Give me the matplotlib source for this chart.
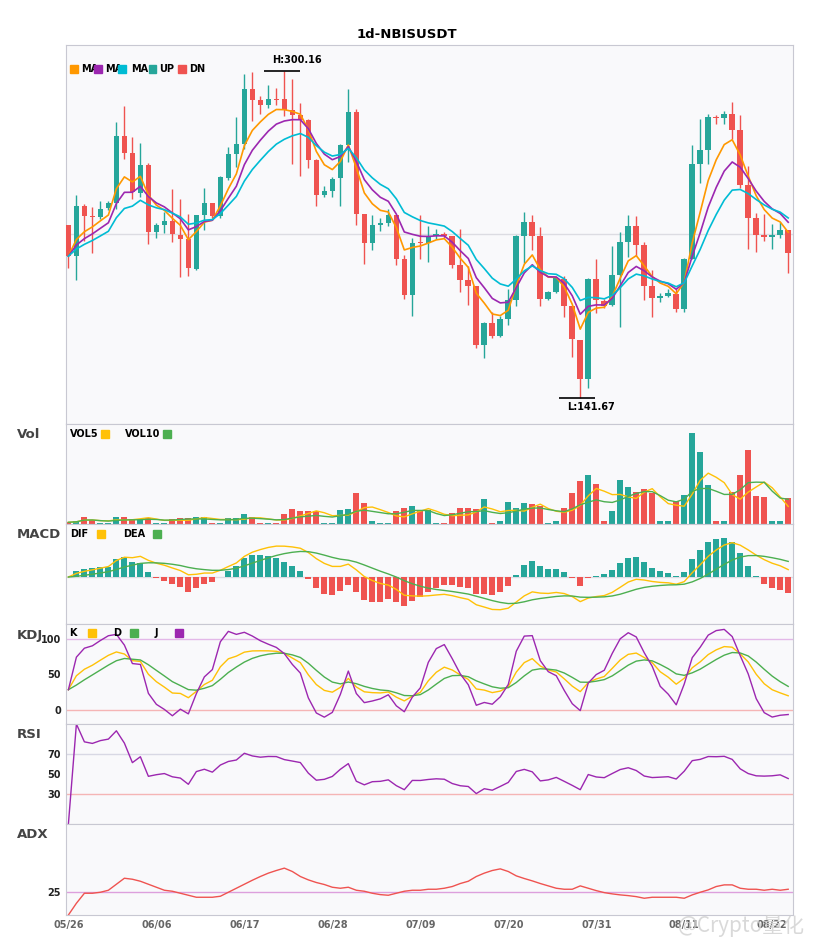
import numpy as np
import pandas as pd
import matplotlib
matplotlib.use("Agg")
import matplotlib.pyplot as plt
from matplotlib.patches import Rectangle

symbol = "1d-NBISUSDT"
start_date = "2025-05-26"

# daily candles
opens = [225.3, 210.4, 234.7, 229.8, 229.3, 233.6, 236.0, 268.6, 260.3, 241.0,
         254.5, 222.0, 225.4, 227.6, 220.8, 218.5, 204.4, 230.3, 236.0, 229.8,
         248.2, 259.8, 264.7, 291.4, 286.1, 283.8, 286.5, 286.5, 281.3, 278.8,
         276.3, 256.9, 239.9, 242.0, 248.3, 264.2, 280.4, 231.1, 216.7, 225.4,
         226.3, 230.2, 209.2, 191.7, 217.0, 216.8, 220.1, 221.4, 220.1, 206.3,
         198.7, 196.1, 167.4, 178.0, 171.8, 180.1, 189.3, 220.1, 227.1, 220.1,
         189.8, 192.8, 199.5, 186.1, 169.9, 150.9, 199.5, 188.7, 186.9, 201.5,
         217.4, 224.9, 215.7, 195.8, 189.9, 191.2, 192.2, 184.9, 209.2, 254.9,
         261.8, 277.9, 277.2, 279.3, 271.6, 244.7, 228.8, 220.6, 219.6, 220.6,
         223.3]
highs = [225.3, 239.9, 235.7, 234.2, 237.0, 237.4, 275.5, 283.3, 268.1, 265.2,
         255.4, 226.3, 231.8, 243.1, 237.9, 231.1, 230.6, 243.6, 236.2, 249.3,
         263.2, 277.8, 298.7, 299.5, 287.9, 293.4, 291.8, 300.16, 296.3, 284.6,
         276.8, 257.4, 244.2, 249.0, 264.7, 291.4, 281.7, 231.1, 230.6, 229.0,
         233.4, 230.6, 211.2, 219.3, 230.6, 224.9, 223.7, 222.0, 220.1, 223.7,
         205.5, 196.1, 178.6, 183.1, 181.5, 194.5, 220.9, 231.9, 230.6, 224.6,
         193.3, 200.0, 200.6, 186.1, 169.9, 199.9, 208.8, 189.8, 215.2, 222.2,
         230.2, 229.8, 217.2, 203.9, 192.6, 194.5, 194.5, 209.6, 264.2, 276.8,
         279.3, 278.8, 280.9, 285.4, 278.8, 254.1, 231.5, 231.0, 225.8, 226.9,
         223.3]
lows = [204.5, 198.7, 218.0, 212.0, 228.2, 233.0, 233.1, 257.7, 237.9, 238.9,
        216.4, 219.1, 221.7, 217.2, 200.3, 201.0, 203.9, 223.3, 228.7, 228.7,
        247.2, 253.5, 262.2, 276.0, 279.3, 282.5, 283.6, 278.4, 254.9, 249.3,
        253.0, 234.7, 239.2, 239.2, 234.7, 256.1, 225.4, 206.8, 213.6, 222.4,
        224.9, 206.3, 189.8, 181.2, 208.8, 207.4, 218.5, 219.0, 204.7, 192.9,
        186.9, 165.8, 160.8, 170.7, 171.3, 177.2, 186.4, 207.2, 213.6, 186.1,
        189.0, 192.7, 180.9, 161.4, 141.67, 146.4, 182.8, 185.4, 186.4, 176.0,
        209.9, 210.4, 189.0, 180.7, 188.0, 190.6, 183.1, 183.1, 208.8, 245.7,
        254.9, 274.5, 274.4, 267.1, 243.6, 213.9, 212.3, 217.7, 214.0, 219.3,
        202.3]
closes = [210.4, 234.7, 229.8, 229.3, 233.4, 236.0, 268.7, 260.3, 241.5, 254.5,
          222.0, 225.3, 227.6, 221.1, 218.5, 204.5, 230.2, 236.0, 229.8, 248.6,
          259.8, 264.7, 291.4, 286.2, 283.8, 286.5, 286.3, 281.3, 278.9, 276.5,
          257.0, 240.0, 241.8, 247.7, 264.2, 280.4, 231.1, 216.7, 225.3, 226.3,
          230.2, 209.2, 191.7, 217.0, 216.8, 219.6, 221.4, 220.1, 206.3, 198.7,
          196.1, 167.4, 178.0, 171.8, 180.1, 189.3, 220.1, 227.1, 220.1, 189.8,
          192.8, 199.9, 186.1, 170.3, 150.9, 199.5, 189.3, 186.4, 201.5, 217.4,
          224.9, 215.7, 195.8, 189.9, 191.2, 192.6, 184.9, 209.2, 254.9, 261.8,
          277.7, 277.2, 279.3, 271.6, 244.7, 228.8, 220.6, 219.6, 220.6, 223.3,
          212.0]
volumes = [17, 27, 73, 43, 7, 7, 73, 73, 53, 53,
           60, 7, 7, 53, 60, 60, 73, 73, 7, 13,
           60, 60, 100, 73, 13, 7, 7, 100, 153, 133,
           133, 133, 7, 7, 143, 153, 303, 210, 33, 13,
           13, 133, 163, 183, 143, 143, 7, 7, 113, 163,
           163, 153, 253, 13, 27, 223, 163, 213, 203, 183,
           7, 27, 163, 303, 423, 483, 393, 27, 133, 433,
           363, 313, 343, 303, 27, 27, 233, 293, 903, 713,
           383, 27, 27, 313, 483, 733, 283, 273, 27, 27,
           263]
adx_values = [0.0, 12.9, 23.9, 23.9, 25.0, 27.2, 33.8, 40.4, 39.3, 37.1,
              33.8, 30.5, 27.2, 26.1, 23.9, 21.7, 19.5, 19.5, 19.5, 20.6,
              25.0, 29.4, 33.8, 38.2, 42.3, 46.0, 48.9, 51.5, 47.8, 42.3,
              38.6, 35.7, 33.5, 30.5, 29.4, 30.5, 27.2, 26.1, 23.9, 22.4,
              21.7, 23.9, 26.1, 27.2, 27.2, 28.3, 28.3, 29.4, 31.3, 34.6,
              37.1, 42.3, 46.0, 48.9, 50.7, 47.8, 43.0, 40.1, 37.5, 34.6,
              32.0, 29.4, 28.3, 28.3, 32.0, 29.4, 26.8, 24.6, 23.2, 22.1,
              21.3, 20.2, 18.4, 19.5, 19.5, 19.5, 19.5, 18.4, 22.1, 25.0,
              27.6, 31.3, 33.1, 33.1, 29.4, 28.3, 28.3, 27.2, 28.3, 27.2,
              28.3]

UP = "#26a69a"
DN = "#ef5350"
ORANGE = "#ff9800"
PURPLE = "#9c27b0"
CYAN = "#00bcd4"
YELLOW = "#ffc107"
GREEN = "#4caf50"
FACE = "#f9f9fb"
EDGE = "#c8c8d2"

df = pd.DataFrame({"open": opens, "high": highs, "low": lows,
                   "close": closes, "volume": volumes},
                  index=pd.date_range(start_date, periods=len(closes), freq="D"))
x = np.arange(len(df))
colors = np.where(df.close >= df.open, UP, DN)

# moving averages (ema 5 / 8 / 13)
ma_fast = df.close.ewm(span=5, adjust=False).mean()
ma_mid = df.close.ewm(span=8, adjust=False).mean()
ma_slow = df.close.ewm(span=13, adjust=False).mean()
vol5 = df.volume.rolling(5, min_periods=1).mean()
vol10 = df.volume.rolling(10, min_periods=1).mean()

# MACD
dif = df.close.ewm(span=12, adjust=False).mean() - df.close.ewm(span=26, adjust=False).mean()
dea = dif.ewm(span=9, adjust=False).mean()
hist = 2 * (dif - dea)

# KDJ
low9 = df.low.rolling(9, min_periods=1).min()
high9 = df.high.rolling(9, min_periods=1).max()
rsv = (df.close - low9) / (high9 - low9) * 100
k = rsv.ewm(com=2, adjust=False).mean()
d = k.ewm(com=2, adjust=False).mean()
j = 3 * k - 2 * d

# RSI
delta = df.close.diff().fillna(0)
gain = delta.clip(lower=0).ewm(alpha=1 / 14, adjust=False).mean()
loss = (-delta.clip(upper=0)).ewm(alpha=1 / 14, adjust=False).mean()
rsi = (100 * gain / (gain + loss)).fillna(0)

W, H = 813, 950
fig = plt.figure(figsize=(W / 100, H / 100), dpi=100)
left, width = 66 / W, 727 / W


def panel(top, bottom, sharex=None):
    ax = fig.add_axes([left, 1 - bottom / H, width, (bottom - top) / H], sharex=sharex)
    ax.set_facecolor(FACE)
    for s in ax.spines.values():
        s.set_color(EDGE)
    ax.tick_params(length=0, labelsize=7, colors="#222")
    return ax


ax = panel(45, 424)
axv = panel(424, 524, ax)
axm = panel(524, 624, ax)
axk = panel(624, 724, ax)
axr = panel(724, 824, ax)
axa = panel(824, 915, ax)

# price
hi_i, lo_i = int(df.high.values.argmax()), int(df.low.values.argmin())
hi, lo = df.high.iloc[hi_i], df.low.iloc[lo_i]
rng = hi - lo
ax.axhline((hi + lo) / 2, color="#dcdce2", lw=1, zorder=1)
ax.vlines(x, df.low, df.high, colors=colors, lw=1, zorder=2)
body = np.maximum((df.close - df.open).abs(), 0.5)
ax.bar(x, body, bottom=np.minimum(df.open, df.close), width=0.7, color=colors, zorder=3)
ax.plot(x, ma_fast, color=ORANGE, lw=1.2, zorder=4)
ax.plot(x, ma_mid, color=PURPLE, lw=1.2, zorder=4)
ax.plot(x, ma_slow, color=CYAN, lw=1.2, zorder=4)
ax.set_ylim(lo - 0.08 * rng, hi + 0.08 * rng)
ax.set_yticks([])
ax.hlines(hi, hi_i - 2.5, hi_i + 1.9, color="black", lw=1.2)
ax.text(hi_i - 1.5, hi + 2.8, f"H:{hi:.2f}", fontsize=7, fontweight="bold", va="bottom")
ax.hlines(lo, lo_i - 2.6, lo_i + 1.8, color="black", lw=1.2)
ax.text(lo_i - 1.6, lo - 2.2, f"L:{lo:.2f}", fontsize=7, fontweight="bold", va="top")

# volume
axv.bar(x, df.volume, width=0.75, color=colors)
axv.plot(x, vol5, color=YELLOW, lw=1)
axv.plot(x, vol10, color=GREEN, lw=1)
axv.set_ylim(0, df.volume.max() * 1.1)
axv.set_yticks([])

# macd
axm.axhline(0, color="#dcdce2", lw=1, zorder=0)
axm.bar(x, hist, width=0.75, color=np.where(hist >= 0, UP, DN))
axm.plot(x, dif, color=YELLOW, lw=1)
axm.plot(x, dea, color=GREEN, lw=1)
mlo = min(dif.min(), dea.min(), hist.min())
mhi = max(dif.max(), dea.max(), hist.max())
axm.set_ylim(mlo - 0.2 * (mhi - mlo), mhi + 0.2 * (mhi - mlo))
axm.set_yticks([])

# kdj
axk.axhline(100, color="#e3b8e8", lw=1, zorder=0)
axk.axhline(0, color="#f5b5b5", lw=1, zorder=0)
axk.plot(x, k, color=YELLOW, lw=1)
axk.plot(x, d, color=GREEN, lw=1)
axk.plot(x, j, color=PURPLE, lw=1)
axk.set_ylim(-20, 121)
axk.set_yticks([0, 50, 100])

# rsi
axr.axhline(70, color="#d8d8e4", lw=1, zorder=0)
axr.axhline(30, color="#f5b5b5", lw=1, zorder=0)
axr.plot(x, rsi, color=PURPLE, lw=1)
axr.set_ylim(0, 100)
axr.set_yticks([30, 50, 70])

# adx
axa.axhline(25, color="#dda0dd", lw=1, zorder=0)
axa.plot(x, adx_values, color=DN, lw=1)
axa.set_ylim(0, 100)
axa.set_yticks([25])

for a in (axk, axr, axa):
    for lab in a.get_yticklabels():
        lab.set_fontweight("bold")

ticks = x[::11]
axa.set_xticks(ticks)
axa.set_xticklabels(df.index[ticks].strftime("%m/%d"), fontsize=7,
                    fontweight="bold", color="#666")
for a in (ax, axv, axm, axk, axr):
    a.tick_params(labelbottom=False)
ax.set_xlim(-0.3, len(df) - 0.4)


def ftext(px, py, s, **kw):
    fig.text(px / W, 1 - py / H, s, va="center", **kw)


def fsquare(px, py, color, size=7.5):
    fig.add_artist(Rectangle((px / W, 1 - (py + size / 2) / H), size / W, size / H,
                             transform=fig.transFigure, color=color, zorder=10))


# legends
for tx, lab in zip([81, 105, 131.5, 159.5, 189.5], ["MA", "MA", "MA", "UP", "DN"]):
    ftext(tx, 69, lab, fontsize=7, fontweight="bold")
for sx, c in zip([70, 94.3, 118.3, 148.7, 178.3], [ORANGE, PURPLE, CYAN, UP, DN]):
    fsquare(sx, 69, c)

ftext(70, 434, "VOL5", fontsize=7, fontweight="bold")
fsquare(101, 434, YELLOW)
ftext(125, 434, "VOL10", fontsize=7, fontweight="bold")
fsquare(163, 434, GREEN)

ftext(70, 534, "DIF", fontsize=7, fontweight="bold")
fsquare(97, 534, YELLOW)
ftext(123, 534, "DEA", fontsize=7, fontweight="bold")
fsquare(153, 534, GREEN)

ftext(69, 633, "K", fontsize=7, fontweight="bold")
fsquare(88, 633, YELLOW)
ftext(113, 633, "D", fontsize=7, fontweight="bold")
fsquare(130, 633, GREEN)
ftext(155, 633, "J", fontsize=7, fontweight="bold")
fsquare(175, 633, PURPLE)

# panel names and title
for py, name in [(434, "Vol"), (535, "MACD"), (635, "KDJ"), (735, "RSI"), (835, "ADX")]:
    ftext(17, py, name, fontsize=9.5, fontweight="bold", color="#444")
ftext(W / 2, 34, symbol, fontsize=9.5, fontweight="bold", ha="center")

fig.text(805 / W, 1 - 926 / H, "@Crypto量化", ha="right", va="center", fontsize=15,
         color="#d0d0d0", alpha=0.8, family=["Noto Sans CJK SC", "DejaVu Sans"])

fig.savefig("out.png", dpi=100, facecolor="white")
